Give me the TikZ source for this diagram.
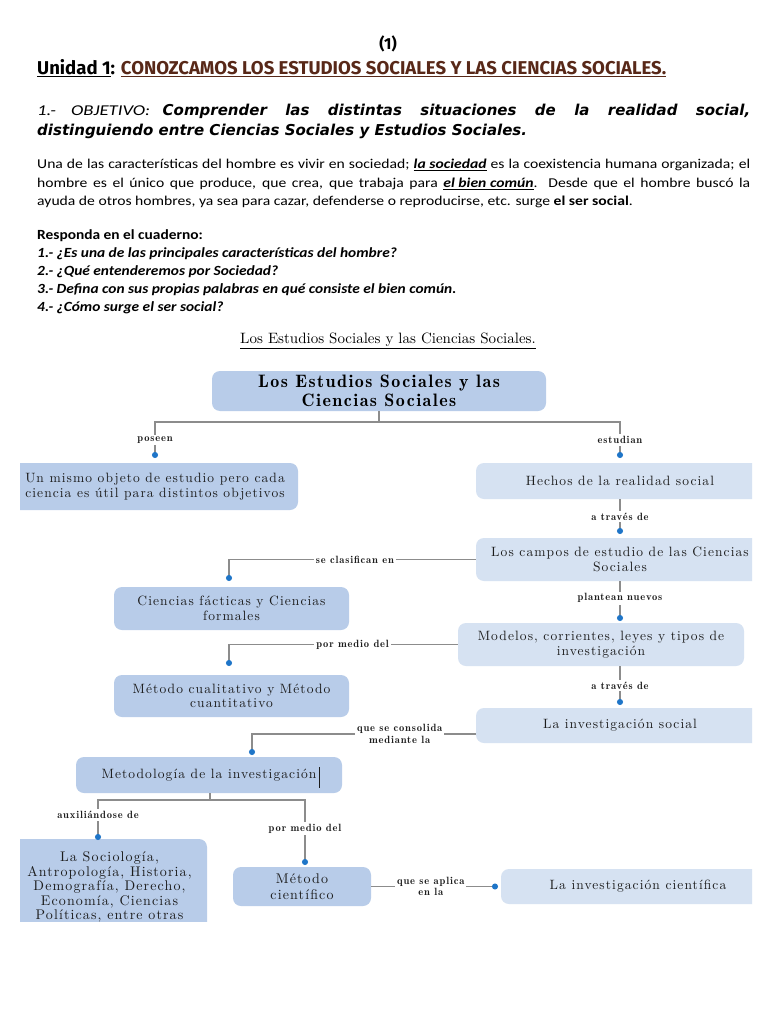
\documentclass[tikz,border=0pt]{standalone}
\usepackage{fontspec}
\usepackage{graphicx}
\usetikzlibrary{arrows.meta}
\newfontfamily\bodyfont[FakeStretch=1.16]{Carlito}
\newfontfamily\askfont[FakeStretch=1.1]{Carlito}
\newfontfamily\objlead[FakeStretch=1.25]{Carlito}
\newfontfamily\headfont{Fira Sans}
\newfontfamily\objfont{DejaVu Sans}
\newfontfamily\titlefont{lmroman10-regular.otf}
\newfontfamily\mapfont[LetterSpace=8]{lmroman10-regular.otf}
\newfontfamily\mapdemi[LetterSpace=8]{lmromandemi10-regular.otf}
\newfontfamily\lblfont[LetterSpace=8]{lmromandemi10-regular.otf}
\definecolor{boxdark}{RGB}{184,204,233}
\definecolor{boxlight}{RGB}{214,226,242}
\definecolor{linkgray}{RGB}{140,140,140}
\definecolor{dotblue}{RGB}{30,117,200}
\definecolor{headbrown}{RGB}{88,40,24}
\definecolor{maptext}{RGB}{28,28,28}

\begin{document}
\begin{tikzpicture}[x=1pt, y=-1pt,
  textline/.style={anchor=west, inner sep=0pt, font=\bodyfont\fontsize{13.5}{16}\selectfont},
  askline/.style={anchor=west, inner sep=0pt, font=\askfont\bfseries\itshape\fontsize{14}{16}\selectfont},
  mapbox/.style={rounded corners=8pt, inner sep=0pt, align=center, text=maptext, font=\mapfont\fontsize{13.5}{14.5}\selectfont},
  darkbox/.style={mapbox, fill=boxdark},
  lightbox/.style={mapbox, fill=boxlight},
  link/.style={draw=linkgray, line width=1.1pt},
  dotlink/.style={link, -{Circle[length=6pt, color=dotblue]}},
  linklbl/.style={fill=white, inner sep=2pt, text=maptext, align=center, font=\lblfont\fontsize{10.5}{11.5}\selectfont}]
\useasboundingbox[fill=white] (0,0) rectangle (768,1024);

\node[font=\headfont\bfseries\fontsize{16}{18}\selectfont] (pagenum) at (388,44) {(1)};
\node[anchor=west, inner sep=0pt] (unit) at (37,68) {\resizebox{629pt}{!}{\headfont\bfseries\fontsize{15}{18}\selectfont\underline{Unidad 1}: \textcolor{headbrown}{\underline{CONOZCAMOS LOS ESTUDIOS SOCIALES Y LAS CIENCIAS SOCIALES.}}}};

\node[textline] (obj1) at (37,111) {\makebox[713pt][s]{{\objlead\itshape\fontsize{15}{17}\selectfont 1.- OBJETIVO:} {\objfont\bfseries\itshape\fontsize{15}{17}\selectfont Comprender las distintas situaciones de la realidad social,}}};
\node[textline, font=\objfont\bfseries\itshape\fontsize{15}{17}\selectfont] (obj2) at (37,131) {distinguiendo entre Ciencias Sociales y Estudios Sociales.};

\node[textline] (par1) at (37,165) {\makebox[713pt][s]{Una de las características del hombre es vivir en sociedad; \textbf{\textit{\underline{la sociedad}}} es la coexistencia humana organizada; el}};
\node[textline] (par2) at (37,184) {\makebox[713pt][s]{hombre es el único que produce, que crea, que trabaja para \textbf{\textit{\underline{el bien común}}}. Desde que el hombre buscó la}};
\node[textline] (par3) at (37,202) {ayuda de otros hombres, ya sea para cazar, defenderse o reproducirse, etc. surge \textbf{el ser social}.};

\node[askline, font=\askfont\bfseries\fontsize{14}{16}\selectfont] (resp) at (37,236) {Responda en el cuaderno:};
\node[askline] (q1) at (37,254) {1.- ¿Es una de las principales características del hombre?};
\node[askline] (q2) at (37,272) {2.- ¿Qué entenderemos por Sociedad?};
\node[askline] (q3) at (37,290) {3.- Defina con sus propias palabras en qué consiste el bien común.};
\node[askline] (q4) at (37,308) {4.- ¿Cómo surge el ser social?};

\node[inner sep=0pt, font=\titlefont\fontsize{15}{17}\selectfont] (maptitle) at (388,341) {\underline{Los Estudios Sociales y las Ciencias Sociales.}};

\begin{scope}
\clip (20,365) rectangle (752,921);
\node[darkbox, text=black, font=\mapdemi\fontsize{18}{19}\selectfont, minimum width=334pt, minimum height=40pt] (top) at (379,391) {Los Estudios Sociales y las\\Ciencias Sociales};
\node[darkbox, minimum width=286pt, minimum height=47pt] (hA) at (155,486.5) {Un mismo objeto de estudio pero cada\\ciencia es útil para distintos objetivos};
\node[lightbox, minimum width=288pt, minimum height=36pt] (hB) at (620,481) {Hechos de la realidad social};
\node[lightbox, minimum width=288pt, minimum height=43pt] (hC) at (620,559.5) {Los campos de estudio de las Ciencias\\Sociales};
\node[darkbox, minimum width=235pt, minimum height=43pt] (hD) at (231.5,608.5) {Ciencias fácticas y Ciencias\\formales};
\node[lightbox, minimum width=286pt, minimum height=43pt] (hE) at (601,644.5) {Modelos, corrientes, leyes y tipos de\\investigación};
\node[darkbox, minimum width=235pt, minimum height=42pt] (hF) at (231.5,696) {Método cualitativo y Método\\cuantitativo};
\node[lightbox, minimum width=288pt, minimum height=35pt] (hG) at (620,725.5) {La investigación social};
\node[darkbox, minimum width=266pt, minimum height=36pt] (hH) at (209,775) {Metodología de la investigación};
\node[darkbox, font=\mapfont\fontsize{14}{14.5}\selectfont, minimum width=195pt, minimum height=96pt] (hI) at (109.5,887) {La Sociología,\\Antropología, Historia,\\Demografía, Derecho,\\Economía, Ciencias\\Políticas, entre otras};
\node[darkbox, font=\mapfont\fontsize{14}{16}\selectfont, minimum width=138pt, minimum height=39pt] (hJ) at (302,886.5) {Método\\científico};
\node[lightbox, minimum width=274pt, minimum height=35pt] (hK) at (638,886.5) {La investigación científica};
\draw[maptext, line width=0.6pt] (319,767) -- (319,788);

\coordinate (j1) at (379,422);
\coordinate (dA) at (155,458);
\coordinate (dB) at (620,458);
\coordinate (dC) at (620,534);
\coordinate (dD) at (229,581);
\coordinate (dE) at (620,621);
\coordinate (dF) at (229,666);
\coordinate (dG) at (620,705);
\coordinate (dH) at (252,755);
\coordinate (j2) at (210,800);
\coordinate (dI) at (98,840);
\coordinate (dJ) at (305,865);
\coordinate (dK) at (498,886.5);

\draw[link] (top.south) -- (j1);
\draw[dotlink] (j1) -| node[linklbl, pos=0.75] {poseen} (dA);
\draw[dotlink] (j1) -| node[linklbl, pos=0.75] {estudian} (dB);
\draw[dotlink] (hB.south -| dC) -- node[linklbl] {a través de} (dC);
\draw[dotlink] (hC.west) -| node[linklbl, pos=0.245] {se clasifican en} (dD);
\draw[dotlink] (hC.south -| dE) -- node[linklbl, pos=0.43] {plantean nuevos} (dE);
\draw[dotlink] (hE.west) -| node[linklbl, pos=0.23] {por medio del} (dF);
\draw[dotlink] (hE.south -| dG) -- node[linklbl] {a través de} (dG);
\draw[dotlink] ([yshift=-8.5pt]hG.west) -| node[linklbl, pos=0.17] {que se consolida\\mediante la} (dH);
\draw[link] (hH.south -| j2) -- (j2);
\draw[dotlink] (j2) -| node[linklbl, pos=0.69] {auxiliándose de} (dI);
\draw[dotlink] (j2) -| node[linklbl, pos=0.72] {por medio del} (dJ);
\draw[dotlink] (hJ.east) -- node[linklbl, pos=0.47] {que se aplica\\en la} (dK);
\end{scope}
\end{tikzpicture}
\end{document}
